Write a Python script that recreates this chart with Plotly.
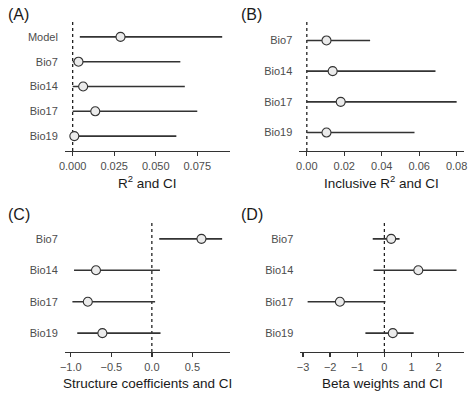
import plotly.graph_objects as go

# ---- data ----
cats_a = ["Model", "Bio7", "Bio14", "Bio17", "Bio19"]
est_a = [0.0288, 0.0035, 0.0063, 0.0136, 0.0010]
lo_a = [0.0043, 0.0, 0.0, 0.0, 0.0]
hi_a = [0.0900, 0.0648, 0.0675, 0.0750, 0.0624]

cats = ["Bio7", "Bio14", "Bio17", "Bio19"]
est_b = [0.0105, 0.0138, 0.0181, 0.0105]
lo_b = [0.0, 0.0, 0.0, 0.0]
hi_b = [0.0338, 0.0687, 0.0800, 0.0575]

est_c = [0.612, -0.689, -0.790, -0.610]
lo_c = [0.091, -0.960, -0.980, -0.920]
hi_c = [0.867, 0.100, 0.040, 0.107]

est_d = [0.25, 1.25, -1.64, 0.31]
lo_d = [-0.43, -0.40, -2.83, -0.70]
hi_d = [0.56, 2.66, 0.04, 1.08]

ticks_a = [0.0, 0.025, 0.05, 0.075]
ticklabels_a = ["0.000", "0.025", "0.050", "0.075"]
ticks_b = [0.0, 0.02, 0.04, 0.06, 0.08]
ticklabels_b = ["0.00", "0.02", "0.04", "0.06", "0.08"]
ticks_c = [-1.0, -0.5, 0.0, 0.5]
ticklabels_c = ["\u22121.0", "\u22120.5", "0.0", "0.5"]
ticks_d = [-3, -2, -1, 0, 1, 2]
ticklabels_d = ["\u22123", "\u22122", "\u22121", "0", "1", "2"]

panel_labels = ["(A)", "(B)", "(C)", "(D)"]
axis_titles = ["R<sup>2</sup> and CI", "Inclusive R<sup>2</sup> and CI",
               "Structure coefficients and CI", "Beta weights and CI"]

W, H = 474, 397
FONT = "Liberation Sans, Arial, sans-serif"
LINE = "#333333"

panels = [
    dict(c=cats_a, e=est_a, lo=lo_a, hi=hi_a, xr=[-0.0047, 0.0945], tv=ticks_a, tt=ticklabels_a,
         px=(60, 228), py=(22, 151), std=6),
    dict(c=cats, e=est_b, lo=lo_b, hi=hi_b, xr=[-0.004, 0.084], tv=ticks_b, tt=ticklabels_b,
         px=(299, 467), py=(22, 151), std=6),
    dict(c=cats, e=est_c, lo=lo_c, hi=hi_c, xr=[-1.073, 0.96], tv=ticks_c, tt=ticklabels_c,
         px=(60, 228), py=(220, 352), std=6),
    dict(c=cats, e=est_d, lo=lo_d, hi=hi_d, xr=[-3.1, 2.94], tv=ticks_d, tt=ticklabels_d,
         px=(300, 467), py=(220, 352), std=6),
]

fig = go.Figure()
layout = {}
annotations = []
shapes = []
for i, p in enumerate(panels):
    n = i + 1
    xa = "xaxis" if n == 1 else f"xaxis{n}"
    ya = "yaxis" if n == 1 else f"yaxis{n}"
    xr = "x" if n == 1 else f"x{n}"
    yr = "y" if n == 1 else f"y{n}"
    plus = [h - e for h, e in zip(p["hi"], p["e"])]
    minus = [e - l for e, l in zip(p["e"], p["lo"])]
    fig.add_trace(go.Scatter(
        x=p["e"], y=p["c"], xaxis=xr, yaxis=yr, mode="markers",
        marker=dict(size=9, color="#ebebeb", line=dict(color=LINE, width=1.1)),
        error_x=dict(type="data", symmetric=False, array=plus, arrayminus=minus,
                     width=0, thickness=1.6, color=LINE),
        showlegend=False, hoverinfo="skip"))
    x0, x1 = p["px"]
    y0, y1 = p["py"]
    layout[xa] = dict(domain=[x0 / W, x1 / W], anchor=yr, range=p["xr"],
                      tickvals=p["tv"], ticktext=p["tt"], ticks="outside", ticklen=4,
                      tickwidth=1.3, tickcolor=LINE, showline=True, linecolor=LINE,
                      linewidth=1.4, showgrid=False, zeroline=False,
                      tickfont=dict(size=11, color="#4d4d4d", family=FONT))
    ncat = len(p["c"])
    layout[ya] = dict(domain=[1 - y1 / H, 1 - y0 / H], anchor=xr, type="category",
                      categoryorder="array", categoryarray=p["c"],
                      range=[ncat - 1 + 0.6, -0.6], showline=False, showgrid=False,
                      zeroline=False, ticks="", ticklabelstandoff=p["std"],
                      tickfont=dict(size=11, color="#4d4d4d", family=FONT))
    shapes.append(dict(type="line", xref=xr, yref=f"{yr} domain", x0=0, x1=0, y0=0, y1=1,
                       line=dict(color="#222222", width=1.3, dash="3px,3px"), layer="below"))
    # axis title
    annotations.append(dict(text=axis_titles[i], x=(x0 + x1) / 2 / W,
                            y=1 - (y1 + 31) / H, xref="paper", yref="paper",
                            xanchor="center", yanchor="middle", showarrow=False,
                            font=dict(size=13.5, color="#1a1a1a", family=FONT)))
    # panel label
    annotations.append(dict(text=panel_labels[i], x=(0 if i % 2 == 0 else 237) / W,
                            y=1 - (15 if i < 2 else 214) / H, xref="paper", yref="paper",
                            xanchor="left", yanchor="middle", showarrow=False,
                            font=dict(size=16, color="#1a1a1a", family=FONT)))

fig.update_layout(width=W, height=H, margin=dict(l=0, r=0, t=0, b=0),
                  plot_bgcolor="white", paper_bgcolor="white",
                  annotations=annotations, shapes=shapes, **layout)
fig.write_html("out.html", config={"displayModeBar": False, "staticPlot": True},
               post_script="document.body.style.margin='0';document.body.style.overflow='hidden';")
